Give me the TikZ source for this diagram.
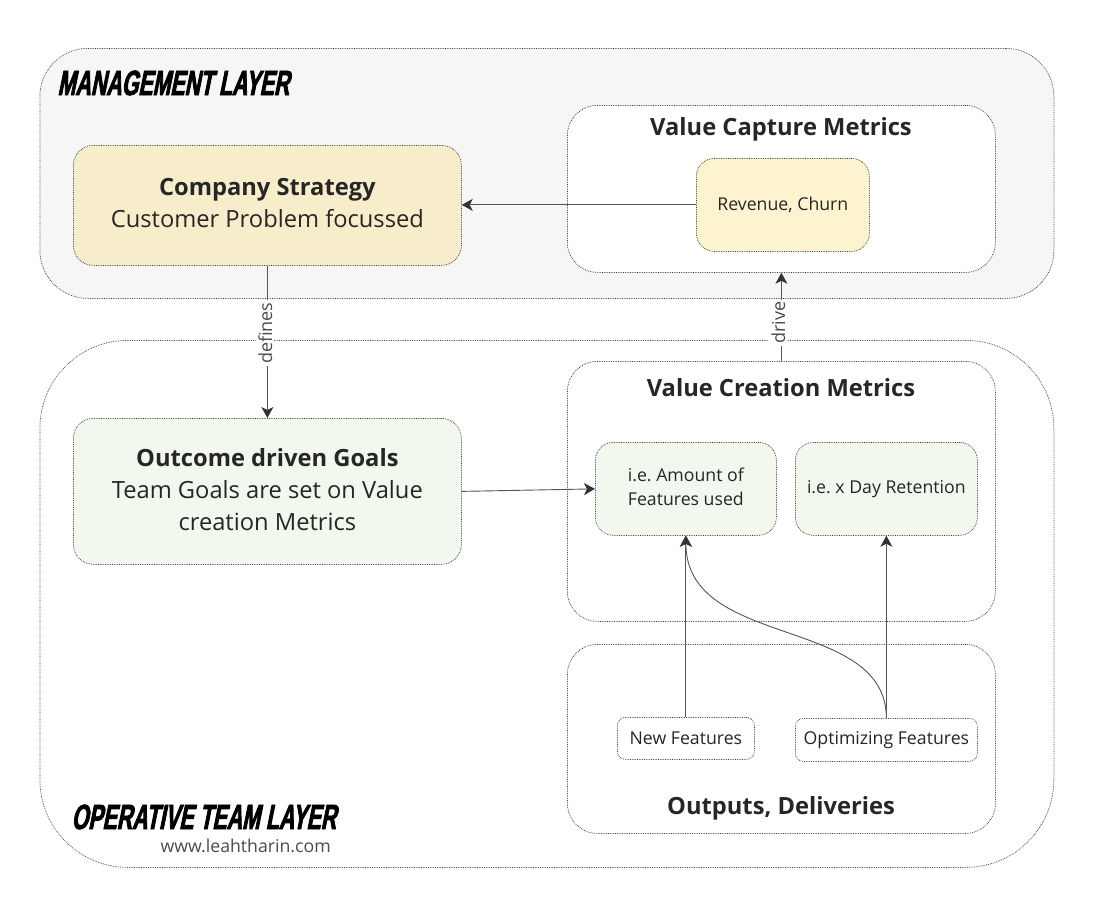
\documentclass[tikz,border=0pt]{standalone}
\usepackage{fontspec}
\setmainfont{Open Sans}
\newfontfamily\layerfont[FakeStretch=0.61,FakeSlant=0.2,FakeBold=2.2]{Liberation Sans Bold}
\usetikzlibrary{arrows.meta}
\frenchspacing
\newcommand\liftline[2]{\raisebox{#1}[\height][\depth]{#2}}
\definecolor{edgecol}{HTML}{555555}
\definecolor{headcol}{HTML}{333333}
\definecolor{inkcol}{HTML}{262626}
\definecolor{mgmtfill}{HTML}{F6F6F6}
\definecolor{stratfill}{HTML}{F7EDCB}
\definecolor{revfill}{HTML}{FDF3CF}
\definecolor{greenfill}{HTML}{F3F8EE}
\tikzset{
  x=1pt,y=-1pt,
  boxbase/.style={draw=black!75,densely dotted,line width=.75pt,rectangle,inner sep=0pt,text=inkcol,align=center,anchor=north west},
  layerbig/.style={boxbase,rounded corners=48pt,fill=#1},
  group/.style={boxbase,rounded corners=30pt,fill=white},
  mainbox/.style={boxbase,rounded corners=20pt,fill=#1,font=\fontsize{23.7}{32}\selectfont},
  smallbox/.style={boxbase,rounded corners=18pt,fill=#1,font=\fontsize{17.7}{24}\selectfont},
  tagbox/.style={boxbase,rounded corners=8pt,fill=white,font=\fontsize{17.7}{25}\selectfont},
  titletext/.style={text=inkcol,font=\fontsize{23.7}{28}\selectfont\bfseries},
  layertext/.style={text=black,anchor=west,font=\fontsize{35}{36}\layerfont},
  linktext/.style={text=black!70,fill=white,inner sep=2pt,rotate=90,font=\fontsize{18}{20}\selectfont},
  link/.style={draw=edgecol,line width=.9pt,-{Stealth[length=11pt,width=12pt,inset=3pt,color=headcol]}},
}
\begin{document}
\begin{tikzpicture}
\useasboundingbox (0,0) rectangle (1096,911);
\fill[white] (0,0) rectangle (1096,911);
\node[layerbig=mgmtfill,minimum width=1014pt,minimum height=250pt] (mgmt) at (39.5,48) {};
\node[layerbig=white,rounded corners=88pt,minimum width=1014pt,minimum height=527pt] (oper) at (39.5,340) {};
\node[layertext] (mgmttitle) at (54,83) {MANAGEMENT LAYER};
\node[layertext] (opertitle) at (68,817) {OPERATIVE TEAM LAYER};
\node[text=black!70,anchor=west,font=\fontsize{17.7}{20}\selectfont] (site) at (157,846) {www.leahtharin.com};
\node[mainbox=stratfill,minimum width=388pt,minimum height=120pt] (strategy) at (73,145) {\liftline{2pt}{\textbf{Company Strategy}}\\\liftline{2pt}{Customer Problem focussed}};
\node[group,minimum width=428pt,minimum height=167pt] (capture) at (567,105) {};
\node[titletext] (capturetitle) at (781,129) {Value Capture Metrics};
\node[smallbox=revfill,minimum width=173pt,minimum height=93pt] (revenue) at (696,158) {Revenue, Churn};
\node[mainbox=greenfill,minimum width=388pt,minimum height=146pt] (goals) at (73,418) {\liftline{2pt}{\textbf{Outcome driven Goals}}\\\liftline{2pt}{Team Goals are set on Value}\\\liftline{2pt}{creation Metrics}};
\node[group,minimum width=428pt,minimum height=260pt] (creation) at (567,361) {};
\node[titletext] (creationtitle) at (781,388) {Value Creation Metrics};
\node[smallbox=greenfill,minimum width=181pt,minimum height=93pt] (amount) at (595,442) {\liftline{2pt}{i.e. Amount of}\\\liftline{2pt}{Features used}};
\node[smallbox=greenfill,minimum width=182pt,minimum height=93pt] (retention) at (795,442) {i.e. x Day Retention};
\node[group,minimum width=428pt,minimum height=189pt] (outputs) at (567,644) {};
\node[titletext] (outputstitle) at (781,808) {Outputs, Deliveries};
\node[tagbox,minimum width=137pt,minimum height=42pt] (newf) at (617,717) {New Features};
\node[tagbox,minimum width=182pt,minimum height=43pt] (optf) at (795,718) {Optimizing Features};
\draw[link] (revenue.west) -- (strategy.east |- revenue.west);
\draw[link] (strategy.south) -- node[linktext,pos=.43,xshift=-2pt,yshift=2pt] (defines) {defines} (goals.north);
\draw[link] (creation.north) -- node[linktext,pos=.47,xshift=-3pt,yshift=3pt] (drive) {drive} (capture.south);
\draw[link] (goals.east) -- (amount.west);
\draw[link] (newf.north) -- (amount.south);
\draw[link] (optf.north) -- (retention.south);
\draw[link] (optf.north) .. controls (886,615) and (686,650) .. (amount.south);
\end{tikzpicture}
\end{document}
